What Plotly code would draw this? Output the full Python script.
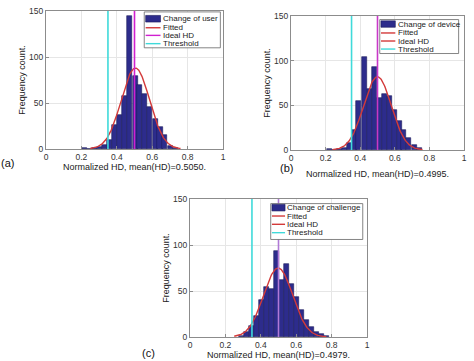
import numpy as np
import plotly.graph_objects as go

W, H = 474, 361

# ---------------- data ----------------
A_CENTERS = [0.219, 0.248, 0.276, 0.304, 0.333, 0.361, 0.389, 0.418, 0.446, 0.474,
             0.503, 0.531, 0.559, 0.587, 0.616, 0.644, 0.672, 0.701, 0.729]
A_COUNTS = [1, 0, 1, 2, 4, 10, 26, 37, 58, 145, 79, 70, 60, 46, 33, 24, 15, 3, 1]

B_CENTERS = [0.220, 0.249, 0.278, 0.307, 0.336, 0.365, 0.393, 0.4225, 0.451, 0.480,
             0.509, 0.538, 0.567, 0.596, 0.625, 0.653, 0.682, 0.711, 0.740]
B_COUNTS = [1, 0, 1, 2, 8, 22, 55, 104, 68, 93, 58, 63, 61, 45, 33, 22, 13, 6, 2]

C_CENTERS = [0.289, 0.317, 0.346, 0.374, 0.402, 0.430, 0.459, 0.487, 0.515, 0.544,
             0.572, 0.600, 0.629, 0.657, 0.685, 0.713, 0.742, 0.770]
C_COUNTS = [1, 5, 12, 23, 40, 54, 52, 93, 62, 79, 58, 43, 29, 18, 11, 5, 3, 1]

FIT_MEAN = [0.5050, 0.4995, 0.4979]
FIT_SIGMA = [0.080, 0.080, 0.082]
FIT_PEAK = [88, 82, 75]
FIT_RANGE = [(0.25, 0.76), (0.24, 0.76), (0.25, 0.77)]

IDEAL_HD = 0.5
THRESHOLD = 0.35

SERIES_NAMES = ["Change of user", "Change of device", "Change of challenge"]
MEAN_LABELS = ["0.5050", "0.4995", "0.4979"]
PANEL_TAGS = ["(a)", "(b)", "(c)"]
X_TICKS = [0, 0.2, 0.4, 0.6, 0.8, 1]
X_TICK_TEXT = ["0", "0.2", "0.4", "0.6", "0.8", "1"]
Y_TICKS = [0, 50, 100, 150]
Y_MAX = 150

# ---------------- styling ----------------
BAR_FILL = "#2d2c8c"
BAR_EDGE = "#1c1b5c"
RED = "#d33a3a"
IDEAL_LINE = ["#d020d0", "#c838c8", "#b07ad6"]
IDEAL_LEG = ["#d020d0", "#d33a3a", "#d33a3a"]
CYAN = "#3fdada"
FONT = "Liberation Sans, Arial, sans-serif"

# plot boxes in pixels (x0, x1, y0, y1)
BOXES = [(46, 223, 11, 149), (291, 464, 16, 150), (190, 367, 199, 337)]
LEG_BOX = [(0.555, 0.985, 110, 149), (0.513, 0.969, 108, 146), (0.456, 0.976, 106, 145)]
LEG_Y = [[141.6, 131.8, 123.5, 114.5], [141, 131, 122, 113], [140.6, 131.5, 122.5, 113.4]]
LEG_X = [(0.563, 0.647, 0.654), (0.52, 0.603, 0.61), (0.463, 0.537, 0.542)]
X_STANDOFF = [0, 8, 0]
TAG_POS = [(7, 163), (286, 168), (148, 353)]

centers = [A_CENTERS, B_CENTERS, C_CENTERS]
counts = [A_COUNTS, B_COUNTS, C_COUNTS]

fig = go.Figure()
shapes = []
annotations = []
layout_axes = {}

for i in range(3):
    sfx = "" if i == 0 else str(i + 1)
    xa, ya = "x" + sfx, "y" + sfx
    c = np.array(centers[i])
    widths = np.full(len(c), np.mean(np.diff(c)))
    fig.add_trace(go.Bar(x=c, y=counts[i], width=widths, xaxis=xa, yaxis=ya,
                         marker=dict(color=BAR_FILL, line=dict(color=BAR_EDGE, width=0.6)),
                         showlegend=False, hoverinfo="skip"))
    lo, hi = FIT_RANGE[i]
    xs = np.linspace(lo, hi, 200)
    ys = FIT_PEAK[i] * np.exp(-0.5 * ((xs - FIT_MEAN[i]) / FIT_SIGMA[i]) ** 2)
    fig.add_trace(go.Scatter(x=xs, y=ys, mode="lines", xaxis=xa, yaxis=ya,
                             line=dict(color=RED, width=1.4), showlegend=False, hoverinfo="skip"))
    fig.add_trace(go.Scatter(x=[IDEAL_HD, IDEAL_HD], y=[0, Y_MAX], mode="lines", xaxis=xa, yaxis=ya,
                             line=dict(color=IDEAL_LINE[i], width=1.6), showlegend=False, hoverinfo="skip"))
    fig.add_trace(go.Scatter(x=[THRESHOLD, THRESHOLD], y=[0, Y_MAX], mode="lines", xaxis=xa, yaxis=ya,
                             line=dict(color=CYAN, width=1.6), showlegend=False, hoverinfo="skip"))

    x0, x1, y0, y1 = BOXES[i]
    axcommon = dict(showline=True, linecolor="#8c8c8c", linewidth=1, mirror=True,
                    showgrid=True, gridcolor="#e6e6e6", gridwidth=1, zeroline=False,
                    ticks="inside", ticklen=3, tickcolor="#8c8c8c", automargin=False,
                    tickfont=dict(family=FONT, size=8.5, color="#333"))
    layout_axes["xaxis" + sfx] = dict(axcommon, domain=[x0 / W, x1 / W], range=[0, 1],
                                      anchor=ya, tickvals=X_TICKS, ticktext=X_TICK_TEXT,
                                      title=dict(text="Normalized HD, mean(HD)=" + MEAN_LABELS[i] + ".",
                                                 font=dict(family=FONT, size=9, color="#222"),
                                                 standoff=X_STANDOFF[i]))
    layout_axes["yaxis" + sfx] = dict(axcommon, domain=[1 - y1 / H, 1 - y0 / H], range=[0, Y_MAX],
                                      anchor=xa, tickvals=Y_TICKS,
                                      title=dict(text="Frequency count.",
                                                 font=dict(family=FONT, size=9, color="#222"),
                                                 standoff=1))

    # legend (drawn manually to match compact MATLAB legend)
    lx0, lx1, ly0, ly1 = LEG_BOX[i]
    shapes.append(dict(type="rect", xref=xa, yref=ya, x0=lx0, x1=lx1, y0=ly0, y1=ly1,
                       fillcolor="white", line=dict(color="#666", width=0.8), layer="above"))
    sx0, sx1, tx = LEG_X[i]
    ly = LEG_Y[i]
    shapes.append(dict(type="rect", xref=xa, yref=ya, x0=sx0, x1=sx1, y0=ly[0] - 3.6, y1=ly[0] + 3.6,
                       fillcolor=BAR_FILL, line=dict(color=BAR_EDGE, width=0.6), layer="above"))
    for yy, col in zip(ly[1:], [RED, IDEAL_LEG[i], CYAN]):
        shapes.append(dict(type="line", xref=xa, yref=ya, x0=sx0, x1=sx1, y0=yy, y1=yy,
                           line=dict(color=col, width=1.4), layer="above"))
    for yy, txt in zip(ly, [SERIES_NAMES[i], "Fitted", "Ideal HD", "Threshold"]):
        annotations.append(dict(xref=xa, yref=ya, x=tx, y=yy, text=txt, showarrow=False,
                                xanchor="left", yanchor="middle", borderpad=0,
                                font=dict(family=FONT, size=8, color="#1a1a1a")))
    tx_, ty_ = TAG_POS[i]
    annotations.append(dict(xref="paper", yref="paper", x=tx_ / W, y=1 - ty_ / H, text=PANEL_TAGS[i],
                            showarrow=False, xanchor="center", yanchor="middle",
                            font=dict(family=FONT, size=11, color="#111")))

fig.update_layout(width=W, height=H, margin=dict(l=0, r=0, t=0, b=0),
                  paper_bgcolor="white", plot_bgcolor="white", bargap=0,
                  showlegend=False, shapes=shapes, annotations=annotations, **layout_axes)

fig.write_html("out.html", config={"displayModeBar": False},
               post_script="document.body.style.margin='0px';document.body.style.padding='0px';")
